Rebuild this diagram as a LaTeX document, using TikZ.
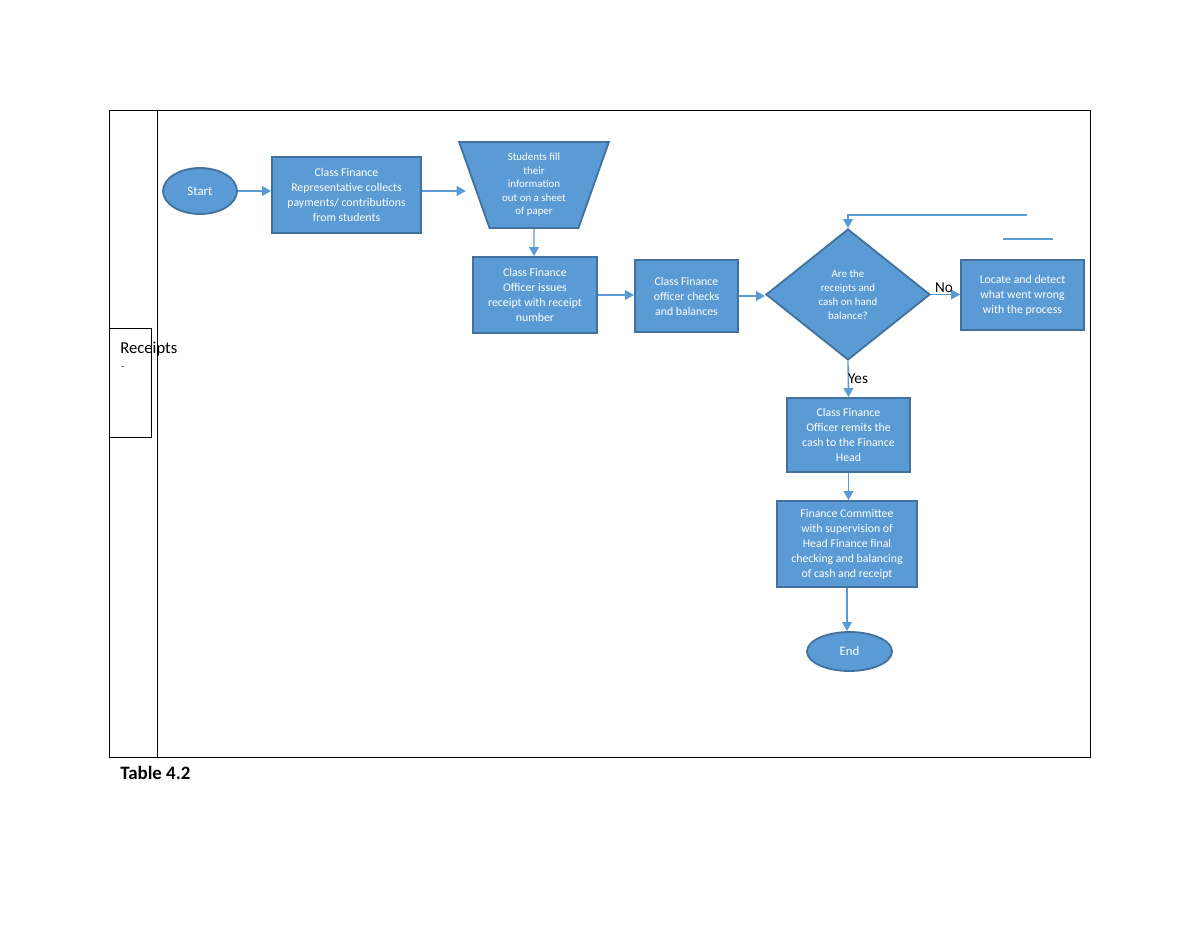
\documentclass[tikz,border=0pt]{standalone}
\usepackage{fontspec}
\setmainfont{Carlito}
\usetikzlibrary{shapes.geometric,arrows.meta}
\definecolor{boxblue}{HTML}{5B9BD5}
\definecolor{edgeblue}{HTML}{41719C}
\def\pxu{0.66pt}
\tikzset{
  procbox/.style={draw=edgeblue, line width=1.2pt, fill=boxblue, text=white,
    align=center, inner sep=1pt, font=\fontsize{7.8}{9.9}\selectfont},
  termnode/.style={procbox, ellipse, font=\fontsize{8.5}{10}\selectfont},
  boxline/.style={draw=boxblue, line width=0.9pt},
  flowline/.style={boxline, -{Triangle[length=6pt,width=6.5pt]}},
  edgelabel/.style={black, inner sep=0.5pt, font=\fontsize{10}{12}\selectfont}
}
\begin{document}
\begin{tikzpicture}[x=\pxu,y=-\pxu]
  \useasboundingbox (0,0) rectangle (1200,927);

  % lane frame
  \draw[line width=0.55pt] (109,110) rectangle (1090,757);
  \draw[line width=0.55pt] (157,110) -- (157,757);
  \draw[line width=0.55pt] (109,328) rectangle (151,437);
  \node[anchor=base west, inner sep=0pt, font=\fontsize{11}{13}\selectfont] (lanename) at (120,353) {Receipts};
  \node[anchor=base west, inner sep=0pt, font=\fontsize{6}{7}\selectfont] (lanemark) at (121,369) {-};
  \node[anchor=base west, inner sep=0pt, font=\bfseries\fontsize{12.5}{14}\selectfont] (caption) at (120,779) {Table 4.2};

  % steps
  \node[termnode, minimum width=74*\pxu, minimum height=46*\pxu] (start) at (200,191) {Start};
  \node[procbox, minimum width=149*\pxu, minimum height=76*\pxu] (collect) at (346.5,195)
    {Class Finance\\Representative collects\\payments/ contributions\\from students};
  \node[procbox, trapezium, trapezium angle=71, shape border rotate=180, trapezium stretches=true,
    inner sep=0pt, minimum width=150*\pxu, minimum height=86*\pxu,
    font=\fontsize{7.2}{8.9}\selectfont] (fillform) at (534,185)
    {Students fill\\their\\information\\out on a sheet\\of paper};
  \node[procbox, minimum width=124*\pxu, minimum height=76*\pxu] (issue) at (535,295)
    {Class Finance\\Officer issues\\receipt with receipt\\number};
  \node[procbox, minimum width=103*\pxu, minimum height=72*\pxu] (checks) at (686.5,296)
    {Class Finance\\officer checks\\and balances};
  \node[procbox, diamond, inner sep=0pt, minimum width=164*\pxu, minimum height=131*\pxu,
    font=\fontsize{7.2}{9.2}\selectfont] (balanced) at (848,294.5)
    {Are the\\receipts and\\cash on hand\\balance?};
  \node[procbox, minimum width=123*\pxu, minimum height=70*\pxu] (locate) at (1022.5,295)
    {Locate and detect\\what went wrong\\with the process};
  \node[procbox, minimum width=123*\pxu, minimum height=74*\pxu] (remits) at (848.5,435)
    {Class Finance\\Officer remits the\\cash to the Finance\\Head};
  \node[procbox, minimum width=140*\pxu, minimum height=86*\pxu] (commit) at (847,544)
    {Finance Committee\\with supervision of\\Head Finance final\\checking and balancing\\of cash and receipt};
  \node[termnode, minimum width=85*\pxu, minimum height=39*\pxu] (finish) at (849.5,651.5) {End};

  % loose ends
  \coordinate (loopstart) at (1027,215);
  \coordinate (loopturn) at (848,215);
  \coordinate (strayleft) at (1003,239);
  \coordinate (strayright) at (1053,239);

  % connectors
  \draw[flowline] (start.east) -- (start.east -| collect.west);
  \draw[flowline] (collect.east |- start.east) -- ([xshift=-5pt]start.east -| fillform.west);
  \draw[flowline] (fillform) -- (fillform |- issue.north);
  \draw[flowline] (issue.east) -- (issue.east -| checks.west);
  \draw[flowline] (checks.east) -- (checks.east -| balanced.west);
  \draw[flowline] (balanced.east) -- (balanced.east -| locate.west)
    node[edgelabel, pos=0.45, anchor=south] {No};
  \draw[flowline] (balanced.south) -- (remits.north)
    node[edgelabel, pos=0.5, anchor=west, xshift=-1pt] {Yes};
  \draw[flowline] (remits.south) -- (remits.south |- commit.north);
  \draw[flowline] (commit.south) -- (commit.south |- finish.north);
  \draw[flowline] (loopstart) -- (loopturn) -- (balanced.north);
  \draw[boxline] (strayleft) -- (strayright);
\end{tikzpicture}
\end{document}
